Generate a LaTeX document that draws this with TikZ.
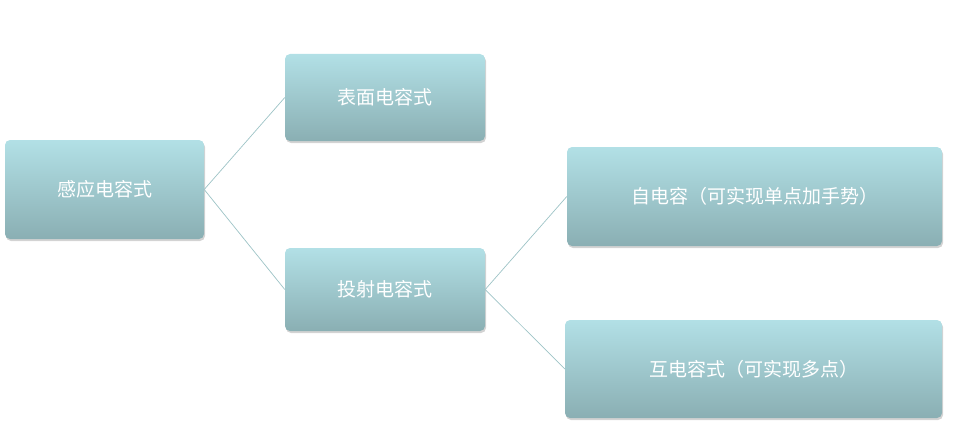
\documentclass[tikz,border=0pt]{standalone}
\usepackage{fontspec}
\setmainfont{Noto Sans CJK SC}
\usetikzlibrary{shadows}
\definecolor{topc}{HTML}{B2E0E6}
\definecolor{botc}{HTML}{8AAFB3}
\definecolor{linec}{HTML}{9DC3C6}
\tikzset{
  box/.style={rounded corners=5pt, top color=topc, bottom color=botc, draw=none,
    text=white, font=\fontsize{19}{22}\selectfont, anchor=center,
    drop shadow={shadow xshift=1pt, shadow yshift=-2pt, opacity=0.35, fill=gray}},
  conn/.style={draw=linec, line width=0.7pt}
}
\begin{document}
\begin{tikzpicture}[x=1pt,y=-1pt]
\useasboundingbox (0,0) rectangle (965,444);
\node[box, minimum width=199pt, minimum height=99pt] (a) at (104.5,189.5) {感应电容式};
\node[box, minimum width=200pt, minimum height=87pt] (b) at (385,97.5) {表面电容式};
\node[box, minimum width=200pt, minimum height=83pt] (c) at (385,289.5) {投射电容式};
\node[box, minimum width=375pt, minimum height=99pt] (d) at (754.5,196.5) {自电容（可实现单点加手势）};
\node[box, minimum width=377pt, minimum height=98pt] (e) at (753.5,369) {互电容式（可实现多点）};
\draw[conn] (a.east) -- (b.west);
\draw[conn] (a.east) -- (c.west);
\draw[conn] (c.east) -- (d.west);
\draw[conn] (c.east) -- (e.west);
\end{tikzpicture}
\end{document}
